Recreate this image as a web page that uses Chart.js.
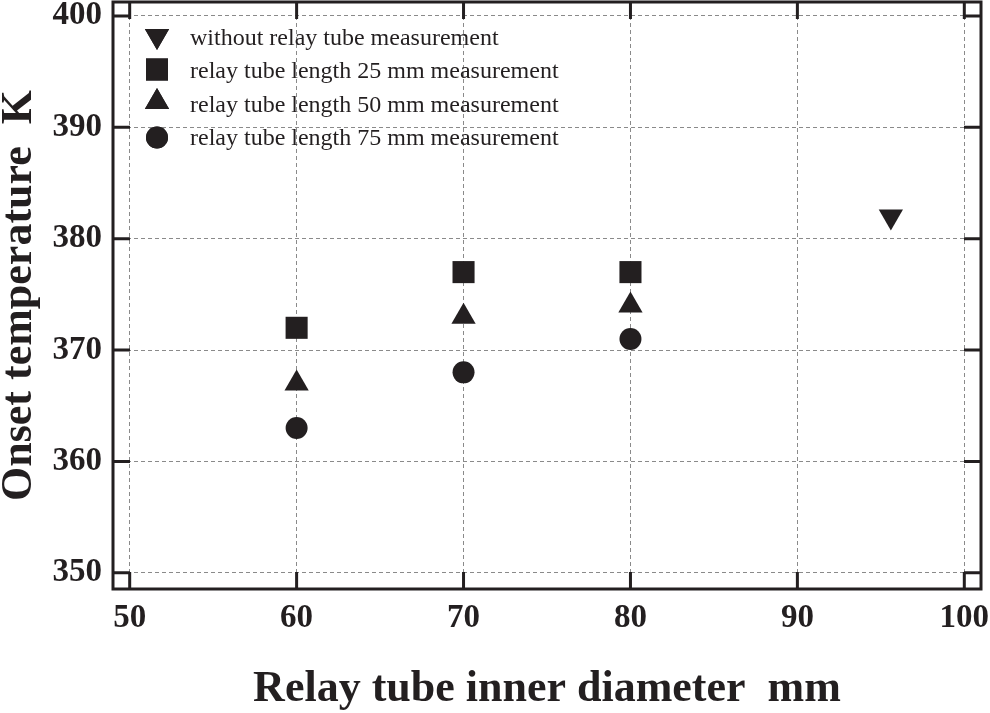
<!DOCTYPE html>
<html>
<head>
<meta charset="utf-8">
<script src="https://cdn.jsdelivr.net/npm/chart.js@4.4.0/dist/chart.umd.min.js"></script>
<style>
  html, body { margin: 0; padding: 0; background: #fff; }
  #wrap { width: 990px; height: 713px; }
</style>
</head>
<body>
<div id="wrap"><canvas id="chart" width="990" height="713"></canvas></div>
<script>
// ---- data ----
const seriesLabels = [
  'without relay tube measurement',
  'relay tube length 25 mm measurement',
  'relay tube length 50 mm measurement',
  'relay tube length 75 mm measurement'
];
const noRelayX = [95.6];
const noRelayY = [382];
const diameters = [60, 70, 80];
const len25 = [372, 377, 377];
const len50 = [367, 373, 374];
const len75 = [363, 368, 371];
const xTicks = [50, 60, 70, 80, 90, 100];
const yTicks = [350, 360, 370, 380, 390, 400];

const INK = '#231f20';
const SERIF = '"Liberation Serif", "Times New Roman", serif';

const toPoints = (xs, ys) => xs.map((x, i) => ({ x, y: ys[i] }));

const styles = [
  { pointStyle: 'triangle', rotation: 180, radius: 14 },
  { pointStyle: 'rect', rotation: 0, radius: 15.6 },
  { pointStyle: 'triangle', rotation: 0, radius: 14 },
  { pointStyle: 'circle', rotation: 0, radius: 11 }
];

const datasets = [
  toPoints(noRelayX, noRelayY),
  toPoints(diameters, len25),
  toPoints(diameters, len50),
  toPoints(diameters, len75)
].map((data, i) => ({
  label: seriesLabels[i],
  data,
  pointStyle: styles[i].pointStyle,
  rotation: styles[i].rotation,
  pointRadius: styles[i].radius,
  pointHoverRadius: styles[i].radius,
  backgroundColor: INK,
  borderColor: INK,
  borderWidth: 0
}));

// frame + inward ticks on all four sides
const framePlugin = {
  id: 'frame',
  afterDraw(chart) {
    const { ctx, chartArea: a, scales } = chart;
    const len = 17;
    ctx.save();
    ctx.strokeStyle = INK;
    ctx.lineWidth = 3;
    ctx.beginPath();
    xTicks.forEach(v => {
      const px = scales.x.getPixelForValue(v);
      ctx.moveTo(px, a.bottom); ctx.lineTo(px, a.bottom - len);
      ctx.moveTo(px, a.top); ctx.lineTo(px, a.top + len);
    });
    yTicks.forEach(v => {
      const py = scales.y.getPixelForValue(v);
      ctx.moveTo(a.left, py); ctx.lineTo(a.left + len, py);
      ctx.moveTo(a.right, py); ctx.lineTo(a.right - len, py);
    });
    ctx.stroke();
    ctx.strokeRect(a.left, a.top, a.right - a.left, a.bottom - a.top);
    ctx.restore();
  }
};

// legend inside the plot, top-left
const legendPlugin = {
  id: 'insideLegend',
  afterDraw(chart) {
    const { ctx } = chart;
    const markerX = 157, textX = 190;
    const baselines = [45, 78.3, 111.7, 145];
    const markerY = [36, 69.5, 102, 137.5];
    ctx.save();
    ctx.fillStyle = INK;
    ctx.font = '24px ' + SERIF;
    ctx.textAlign = 'left';
    ctx.textBaseline = 'alphabetic';
    chart.data.datasets.forEach((ds, i) => {
      Chart.helpers.drawPoint(ctx, {
        pointStyle: ds.pointStyle,
        rotation: ds.rotation,
        radius: ds.pointRadius,
        borderWidth: 0
      }, markerX, markerY[i]);
      ctx.fillStyle = INK;
      ctx.fill();
      ctx.fillText(ds.label, textX, baselines[i]);
    });
    ctx.restore();
  }
};

new Chart(document.getElementById('chart'), {
  type: 'scatter',
  data: { datasets },
  options: {
    responsive: false,
    animation: false,
    devicePixelRatio: 1,
    layout: { autoPadding: false, padding: { top: 2, right: 9, left: 0, bottom: 0 } },
    plugins: { legend: { display: false }, tooltip: { enabled: false } },
    scales: {
      x: {
        type: 'linear',
        min: 49,
        max: 101,
        afterBuildTicks: s => { s.ticks = xTicks.map(value => ({ value })); },
        afterFit: s => { s.height = 124; s.paddingLeft = 0; s.paddingRight = 0; },
        grid: { color: '#8a8a8a', lineWidth: 1, drawTicks: false },
        border: { display: false, dash: [4, 3] },
        ticks: { color: INK, padding: 10, font: { family: SERIF, size: 33, weight: 'bold' } },
        title: {
          display: true,
          text: 'Relay tube inner diameter  mm',
          color: INK,
          padding: { top: 0, bottom: 1 },
          font: { family: SERIF, size: 44, weight: 'bold', lineHeight: 1 }
        }
      },
      y: {
        type: 'linear',
        min: 348.55,
        max: 401.25,
        afterBuildTicks: s => { s.ticks = yTicks.map(value => ({ value })); },
        afterFit: s => { s.width = 113; s.paddingTop = 0; s.paddingBottom = 0; },
        grid: { color: '#8a8a8a', lineWidth: 1, drawTicks: false },
        border: { display: false, dash: [4, 3] },
        ticks: { color: INK, padding: 11, font: { family: SERIF, size: 33, weight: 'bold' } },
        title: {
          display: true,
          text: 'Onset temperature  K',
          color: INK,
          padding: { top: 0, bottom: 0 },
          font: { family: SERIF, size: 44, weight: 'bold', lineHeight: 0.9 }
        }
      }
    }
  },
  plugins: [framePlugin, legendPlugin]
});
</script>
</body>
</html>
